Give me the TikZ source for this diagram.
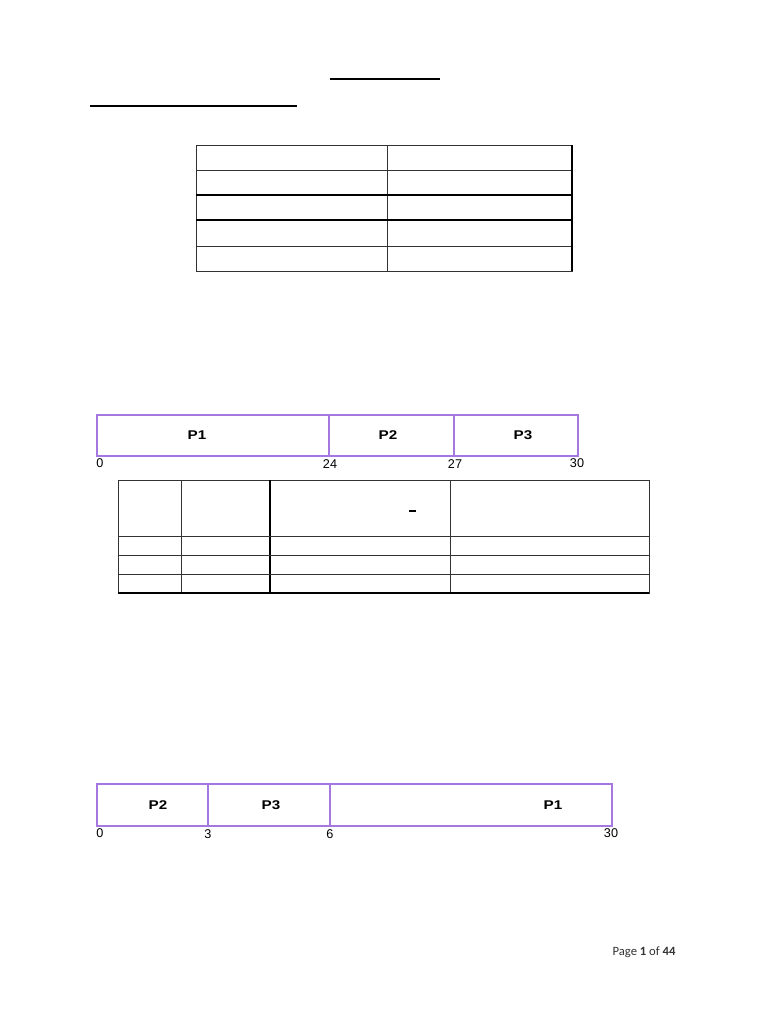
\documentclass[tikz,border=0pt]{standalone}
\usepackage{fontspec}
\setmainfont{Liberation Sans}
\newfontfamily\calib{Carlito}
\definecolor{gpurple}{RGB}{165,120,225}
\definecolor{rulegray}{RGB}{50,50,50}
\begin{document}
\begin{tikzpicture}[x=0.75pt,y=-0.75pt,
  rulebar/.style={line width=1.3pt,black},
  cell/.style={line width=0.7pt,rulegray},
  thick cell/.style={line width=1.4pt,black},
  gbox/.style={draw=gpurple,line width=0.9pt},
  glabel/.style={font=\bfseries\fontsize{9.5}{10}\selectfont,inner sep=0pt,xscale=1.2},
  gnum/.style={font=\fontsize{9.5}{10}\selectfont,inner sep=0pt},
]
\useasboundingbox (0,0) rectangle (768,1024);
% heading rules
\draw[rulebar] (330,79) -- (440,79);
\draw[rulebar] (90,106) -- (297,106);
% table 1
\draw[cell] (196,145) rectangle (572,271);
\draw[cell] (387,145) -- (387,271);
\draw[cell] (196,170) -- (572,170);
\draw[thick cell] (196,195) -- (572,195);
\draw[thick cell] (196,220) -- (572,220);
\draw[cell] (196,246) -- (572,246);
\draw[thick cell] (572,145) -- (572,271);
% gantt 1
\draw[gbox] (97,415) rectangle (578,456);
\draw[gbox] (329,415) -- (329,456);
\draw[gbox] (454,415) -- (454,456);
\node[glabel] (a1) at (197,435) {P1};
\node[glabel] (a2) at (388,435) {P2};
\node[glabel] (a3) at (523,435) {P3};
\node[gnum] (n0) at (100,463) {0};
\node[gnum] (n24) at (330,464) {24};
\node[gnum] (n27) at (455,464) {27};
\node[gnum] (n30) at (577,463) {30};
% table 2
\draw[cell] (118,480) rectangle (649,593);
\draw[cell] (181,480) -- (181,593);
\draw[thick cell] (270,480) -- (270,593);
\draw[cell] (450,480) -- (450,593);
\draw[cell] (118,536) -- (649,536);
\draw[cell] (118,555) -- (649,555);
\draw[cell] (118,574) -- (649,574);
\draw[thick cell] (118,593) -- (649,593);
\draw[line width=1pt] (409,511) -- (416,511);
% gantt 2
\draw[gbox] (97,784) rectangle (612,826);
\draw[gbox] (208,784) -- (208,826);
\draw[gbox] (330,784) -- (330,826);
\node[glabel] (b2) at (158,805) {P2};
\node[glabel] (b3) at (271,805) {P3};
\node[glabel] (b1) at (553,805) {P1};
\node[gnum] (m0) at (100,833) {0};
\node[gnum] (m3) at (208,834) {3};
\node[gnum] (m6) at (330,834) {6};
\node[gnum] (m30) at (611,833) {30};
% footer
\node[font=\calib\fontsize{9.5}{11}\selectfont,text=black!80,inner sep=0pt] (pg) at (644,952) {Page \textbf{1} of \textbf{44}};
\end{tikzpicture}
\end{document}
